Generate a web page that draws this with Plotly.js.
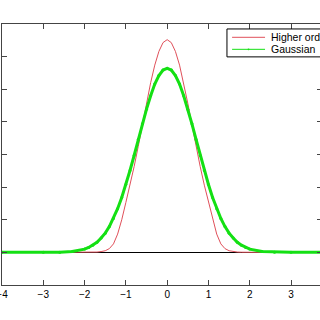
<!DOCTYPE html>
<html>
<head>
<meta charset="utf-8">
<script src="https://cdn.plot.ly/plotly-3.0.1.min.js"></script>
<style>
html,body{margin:0;padding:0;overflow:hidden;background:#fff;}
#plot{width:322px;height:320px;}
</style>
</head>
<body>
<div id="plot"></div>
<script>
var xVals = [-4, -3, -2.6, -2.3, -2.0, -1.9, -1.8, -1.7, -1.6, -1.5, -1.4, -1.3, -1.2, -1.1, -1.0,
  -0.9, -0.8, -0.7, -0.6, -0.5, -0.4, -0.3, -0.2, -0.1, 0,
  0.1, 0.2, 0.3, 0.4, 0.5, 0.6, 0.7, 0.8, 0.9, 1.0, 1.1, 1.2, 1.3, 1.4, 1.5, 1.6, 1.7, 1.8, 1.9, 2.0,
  2.3, 2.6, 3, 4];
var higherOrder = [0, 0, 0, 0, 0, 0.0002, 0.0005, 0.001, 0.0025, 0.005, 0.0115, 0.026, 0.056, 0.100, 0.153,
  0.206, 0.263, 0.325, 0.391, 0.457, 0.520, 0.574, 0.616, 0.643, 0.652,
  0.643, 0.616, 0.574, 0.520, 0.457, 0.391, 0.325, 0.263, 0.206, 0.153, 0.100, 0.056, 0.026, 0.0115, 0.005, 0.0025, 0.001, 0.0005, 0.0002, 0,
  0, 0, 0, 0];
var gaussian = [0, 0.0001, 0.0007, 0.0028, 0.010, 0.015, 0.022, 0.031, 0.044, 0.059, 0.079, 0.104, 0.134, 0.168, 0.208,
  0.251, 0.297, 0.346, 0.394, 0.439, 0.480, 0.516, 0.542, 0.559, 0.564,
  0.559, 0.542, 0.516, 0.480, 0.439, 0.394, 0.346, 0.297, 0.251, 0.208, 0.168, 0.134, 0.104, 0.079, 0.059, 0.044, 0.031, 0.022, 0.015, 0.010,
  0.0028, 0.0007, 0.0001, 0];
var seriesNames = ['Higher order', 'Gaussian'];
var seriesColors = ['#e0505a', '#14e014'];
var xTicks = [-4, -3, -2, -1, 0, 1, 2, 3];
var yTicks = [-0.1, 0, 0.1, 0.2, 0.3, 0.4, 0.5, 0.6, 0.7];

var traces = [
  {x: xVals, y: higherOrder, name: seriesNames[0], type: 'scatter', mode: 'lines',
   line: {color: seriesColors[0], width: 1}},
  {x: xVals, y: gaussian, name: seriesNames[1], type: 'scatter', mode: 'lines+markers',
   line: {color: seriesColors[1], width: 3}, marker: {color: seriesColors[1], size: 3}}
];

// manual legend (paper coordinates)
var legBox = {x0: 0.703, x1: 1.1, y0: 0.874, y1: 0.981};
var legRows = [0.949, 0.903];
var shapes = [
  {type: 'rect', xref: 'paper', yref: 'paper', x0: legBox.x0, x1: legBox.x1, y0: legBox.y0, y1: legBox.y1,
   line: {color: '#000', width: 1}, fillcolor: '#fff', layer: 'above'},
  {type: 'line', xref: 'paper', yref: 'paper', x0: 0.719, x1: 0.822, y0: legRows[0], y1: legRows[0],
   line: {color: seriesColors[0], width: 1}, layer: 'above'},
  {type: 'line', xref: 'paper', yref: 'paper', x0: 0.719, x1: 0.822, y0: legRows[1], y1: legRows[1],
   line: {color: seriesColors[1], width: 1}, layer: 'above'},
  {type: 'circle', xref: 'paper', yref: 'paper', x0: 0.7675, x1: 0.7735, y0: legRows[1] - 0.0035, y1: legRows[1] + 0.0035,
   line: {color: seriesColors[1], width: 0}, fillcolor: seriesColors[1], layer: 'above'}
];
var annotations = seriesNames.map(function (n, i) {
  return {text: n, xref: 'paper', yref: 'paper', x: 0.834, y: legRows[i], xanchor: 'left', yanchor: 'middle',
    showarrow: false, font: {family: 'Liberation Sans, Arial, sans-serif', size: 10.5, color: '#000'}};
});

var frame = '#444';
var layout = {
  width: 322, height: 320,
  margin: {l: 2, r: 0, t: 24, b: 35, pad: 0},
  paper_bgcolor: '#fff', plot_bgcolor: '#fff',
  font: {family: 'Liberation Sans, Arial, sans-serif', size: 10, color: '#000'},
  showlegend: false,
  shapes: shapes,
  annotations: annotations,
  xaxis: {range: [-4, 3.75], tickvals: xTicks, ticks: 'inside', ticklen: 5, tickcolor: frame,
    showline: true, linecolor: frame, linewidth: 1, mirror: 'ticks', showgrid: false, zeroline: false,
    tickfont: {size: 10}, ticklabeloverflow: 'allow', automargin: false},
  yaxis: {range: [-0.1, 0.7], tickvals: yTicks, ticks: 'inside', ticklen: 5, tickcolor: frame,
    showline: true, linecolor: frame, linewidth: 1, mirror: 'ticks', showgrid: false,
    zeroline: true, zerolinecolor: '#000', zerolinewidth: 1, showticklabels: false, automargin: false}
};
Plotly.newPlot('plot', traces, layout, {displayModeBar: false, staticPlot: true});
</script>
</body>
</html>
